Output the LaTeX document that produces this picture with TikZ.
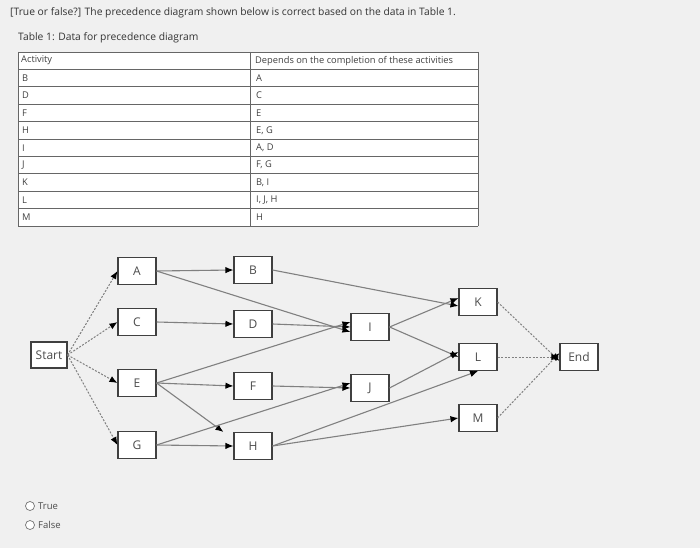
\documentclass[tikz,border=0pt]{standalone}
\usepackage{fontspec}
\setmainfont{Open Sans}
\usetikzlibrary{arrows.meta}
\begin{document}
\begin{tikzpicture}[x=1pt,y=-1pt,
  box/.style={draw=black!75,line width=1.1pt,fill=white,minimum width=38pt,minimum height=27pt,inner sep=1pt,font=\fontsize{12}{13}\selectfont,text=black!70},
  ed/.style={draw=black!50,line width=1.1pt,-{Latex[length=8pt,width=6.5pt,color=black]}},
  dd/.style={draw=black!50,line width=1pt,dashed,dash pattern=on 2pt off 1.5pt,-{Latex[length=8pt,width=6.5pt,color=black]}},
  cell/.style={anchor=west,font=\fontsize{9.3}{10}\selectfont,text=black!75,inner sep=0pt},
  txt/.style={anchor=west,font=\fontsize{10.3}{11}\selectfont,text=black!80,inner sep=0pt}]
\fill[white!94!black] (0,0) rectangle (700,548);
\useasboundingbox (0,0) rectangle (700,548);
\node[txt] (title) at (10,13) {[True or false?] The precedence diagram shown below is correct based on the data in Table 1.};
\node[txt] (cap) at (18,38) {Table 1: Data for precedence diagram};
% table
\fill[white] (18,52) rectangle (478,226);
\foreach \i in {0,...,10}{\draw[black!60,line width=0.7pt] (18,52+\i*17.4) -- (478,52+\i*17.4);}
\draw[black!60,line width=0.7pt] (18,52) -- (18,226) (250,52) -- (250,226) (478,52) -- (478,226);
\node[cell] (h1) at (21,60.7) {Activity};
\node[cell] (h2) at (255,60.7) {Depends on the completion of these activities};
\foreach \a/\b [count=\i] in {B/A,D/C,F/E,H/{E, G},I/{A, D},J/{F, G},K/{B, I},L/{I, J, H},M/H}{
  \node[cell] at (22,60.7+\i*17.4) {\a};
  \node[cell] at (256,60.7+\i*17.4) {\b};}
% diagram
\node[box,minimum width=36pt,minimum height=26pt] (Start) at (49,355) {Start};
\node[box] (A) at (137,271) {A};
\node[box] (C) at (137,322) {C};
\node[box] (E) at (137,383) {E};
\node[box] (G) at (137,445) {G};
\node[box] (B) at (253,270) {B};
\node[box] (D) at (253,324) {D};
\node[box] (F) at (253,386) {F};
\node[box] (H) at (253,446) {H};
\node[box] (I) at (370,327) {I};
\node[box] (J) at (370,388) {J};
\node[box] (K) at (478,302) {K};
\node[box] (L) at (478,357) {L};
\node[box] (M) at (478,418) {M};
\node[box] (End) at (579,357) {End};
\foreach \t in {A,C,E,G}{\draw[dd] (Start.east) -- (\t.west);}
\draw[dd] (K.east) -- ([yshift=-4pt]End.west);
\draw[dd] (L.east) -- (End.west);
\draw[dd] (M.east) -- ([yshift=4pt]End.west);
\draw[ed] (A.east) -- (B.west);
\draw[ed] (A.east) -- ([yshift=-5pt]I.west);
\draw[ed] (C.east) -- (D.west);
\draw[ed] (D.east) -- (I.west);
\draw[ed] (E.east) -- ([yshift=5pt]I.west);
\draw[ed] (E.east) -- (F.west);
\draw[ed] (E.east) -- ([xshift=-10pt]H.north west);
\draw[ed] (F.east) -- (J.west);
\draw[ed] (G.east) -- ([yshift=5pt]J.west);
\draw[ed] (G.east) -- (H.west);
\draw[ed] (B.east) -- ([yshift=-4pt]K.west);
\draw[ed] (I.east) -- ([yshift=4pt]K.west);
\draw[ed] (I.east) -- (L.west);
\draw[ed] (J.east) -- ([yshift=5pt]L.west);
\draw[ed] (H.east) -- (L.south);
\draw[ed] (H.east) -- (M.west);
% radio buttons
\draw[black!55,line width=0.7pt,fill=white] (30,506) circle (4.5pt) (30,525) circle (4.5pt);
\node[txt,text=black!70,font=\fontsize{9.5}{10}\selectfont] (tr) at (38,506) {True};
\node[txt,text=black!70,font=\fontsize{9.5}{10}\selectfont] (fa) at (38,525) {False};
\end{tikzpicture}
\end{document}
